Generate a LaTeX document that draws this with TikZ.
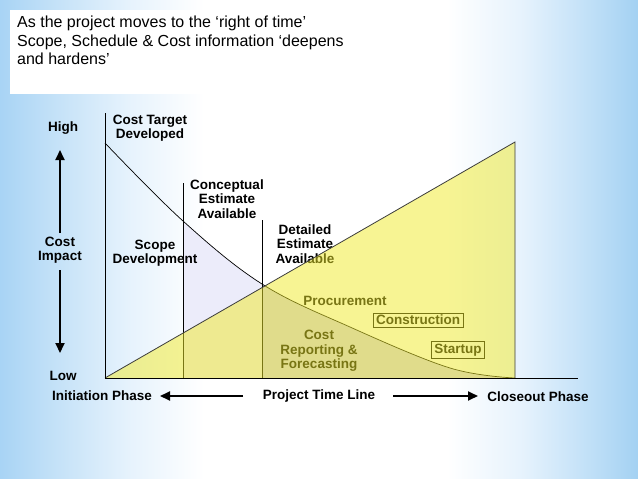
\documentclass[tikz,border=0pt]{standalone}
\usepackage{fontspec}
\setmainfont{Liberation Sans}
\usetikzlibrary{arrows.meta}
\definecolor{lav}{RGB}{236,236,250}
\definecolor{lavdark}{RGB}{208,206,240}
\definecolor{yel}{RGB}{240,234,40}
\definecolor{edge}{RGB}{60,60,60}
% f -> 25+50f bp
\pgfdeclarehorizontalshading{bgshade}{100bp}{rgb(0bp)=(0.66,0.83,0.96); rgb(25bp)=(0.66,0.83,0.96); rgb(29bp)=(0.76,0.88,0.97); rgb(35bp)=(0.90,0.95,0.99); rgb(41bp)=(1,1,1); rgb(60bp)=(1,1,1); rgb(66bp)=(0.90,0.95,0.99); rgb(71bp)=(0.76,0.88,0.97); rgb(75bp)=(0.64,0.82,0.95); rgb(100bp)=(0.64,0.82,0.95)}
\tikzset{
  lbl/.style={font=\bfseries\fontsize{13.5}{14.5}\selectfont, align=center, inner sep=0pt, text=black},
  boxlbl/.style={lbl, draw=black, line width=0.8pt, inner xsep=3pt, inner ysep=2pt},
  bigarrow/.style={line width=1.8pt, -{Triangle[length=10pt,width=9pt]}},
  thin/.style={line width=0.7pt, draw=black}
}
\begin{document}
\begin{tikzpicture}[x=1pt,y=-1pt]
\useasboundingbox (0,0) rectangle (638,479);
\shade[shading=bgshade] (0,0) rectangle (638,479);
% title box
\fill[white] (10,10) rectangle (372,94);
\node[anchor=north west, align=left, inner sep=0pt, font=\fontsize{16}{18.5}\selectfont] (title) at (17,16)
  {As the project moves to the ‘right of time’\\Scope, Schedule \& Cost information ‘deepens\\and hardens’};
% regions under the curve
\begin{scope}
  \clip (183,0) rectangle (262,378);
  \fill[lav] plot[smooth, tension=0.6] coordinates {(105,143) (183,221) (262,284) (350,327) (450,368) (515,378)} -- (515,378) -- (105,378) -- cycle;
\end{scope}
\begin{scope}
  \clip (262,0) rectangle (515,378);
  \fill[lavdark] plot[smooth, tension=0.6] coordinates {(105,143) (183,221) (262,284) (350,327) (450,368) (515,378)} -- (515,378) -- (105,378) -- cycle;
\end{scope}
% vertical milestone lines
\coordinate (v1t) at (183,183); \coordinate (v1b) at (183,378);
\coordinate (v2t) at (262,220); \coordinate (v2b) at (262,378);
\draw[thin] (v1t) -- (v1b);
\draw[thin] (v2t) -- (v2b);
% curve
\draw[thin] plot[smooth, tension=0.6] coordinates {(105,143) (183,221) (262,284) (350,327) (450,368) (515,378)};
% labels
\node[lbl] (high) at (63,128) {High};
\node[lbl] (impact) at (60,250) {Cost\\Impact};
\node[lbl] (low) at (63,376) {Low};
\node[lbl] (target) at (150,128) {Cost Target\\Developed};
\node[lbl] (concept) at (227,199) {Conceptual\\Estimate\\Available};
\node[lbl] (scope) at (155,253) {Scope\\Development};
\node[lbl] (detail) at (305,244) {Detailed\\Estimate\\Available};
\node[lbl] (proc) at (345,301) {Procurement};
\node[boxlbl] (constr) at (418,320) {Construction};
\node[lbl] (report) at (319,351) {Cost\\Reporting \&\\Forecasting};
\node[boxlbl] (startup) at (458,350) {Startup};
% yellow overlay
\fill[yel, opacity=0.5] (105,378) -- (515,142) -- (515,378) -- cycle;
\draw[line width=0.8pt, draw=edge] (105,378) -- (515,142) -- (515,378);
% axes
\coordinate (ytop) at (105,113);
\coordinate (origin) at (105,378);
\coordinate (xend) at (578,378);
\draw[line width=0.9pt] (ytop) -- (origin) -- (xend);
% cost impact arrows
\coordinate (ua) at (60,233); \coordinate (ub) at (60,150);
\coordinate (da) at (60,270); \coordinate (db) at (60,353);
\draw[bigarrow] (ua) -- (ub);
\draw[bigarrow] (da) -- (db);
% time line
\node[lbl] (init) at (102,396) {Initiation Phase};
\node[lbl] (ptl) at (319,396) {Project Time Line};
\node[lbl] (close) at (538,397) {Closeout Phase};
\coordinate (la) at (243,396); \coordinate (lb) at (160,396);
\coordinate (ra) at (393,396); \coordinate (rb) at (478,396);
\draw[bigarrow] (la) -- (lb);
\draw[bigarrow] (ra) -- (rb);
\end{tikzpicture}
\end{document}
